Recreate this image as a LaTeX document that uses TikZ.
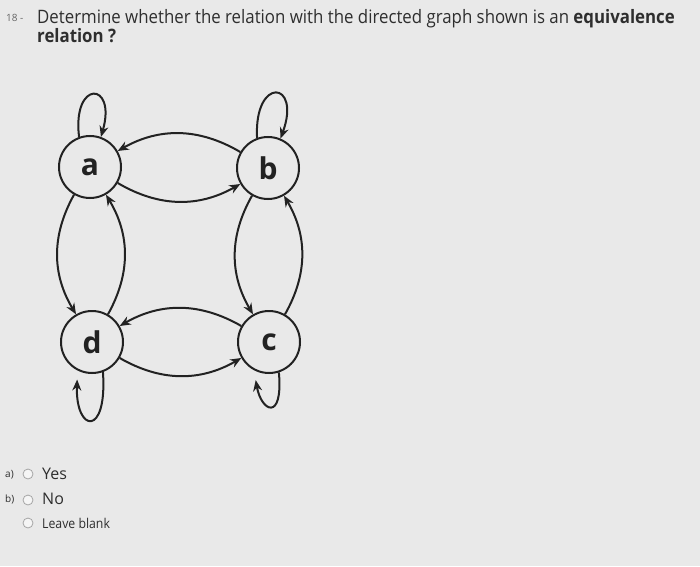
\documentclass[tikz,border=0pt]{standalone}
\usepackage{fontspec}
\setmainfont{Open Sans}
\newfontfamily\ttl[FakeStretch=0.91]{Open Sans}
\usetikzlibrary{arrows.meta}
\definecolor{bg}{HTML}{E9E9E9}
\definecolor{ink}{HTML}{222222}
\definecolor{txt}{HTML}{2E2E2E}
\begin{document}
\begin{tikzpicture}[x=1pt,y=1pt,
  vtx/.style={circle,draw=ink,line width=2pt,minimum size=62pt,inner sep=0pt,
              font=\bfseries\fontsize{30}{30}\selectfont,text=ink},
  edge/.style={draw=ink,line width=2pt,-{Stealth[length=11pt,width=9pt]}},
  radio/.style={draw=gray!70,line width=0.8pt,fill=white!92!gray},
  lbl/.style={anchor=base west,inner sep=0pt,text=txt}]
\fill[bg] (0,0) rectangle (700,566);
\useasboundingbox (0,0) rectangle (700,566);
% title
\node[lbl,text=gray!80!black,font=\fontsize{10}{10}\selectfont] (num) at (6,544) {18 -};
\node[lbl,font=\ttl\fontsize{18.5}{18.5}\selectfont] (t1) at (37,542) {Determine whether the relation with the directed graph shown is an \textbf{equivalence}};
\node[lbl,font=\ttl\fontsize{18.5}{18.5}\selectfont] (t2) at (37,523) {\textbf{relation ?}};
% vertices
\node[vtx] (a) at (90,399) {a};
\node[vtx] (b) at (268,398) {b};
\node[vtx] (d) at (92,224) {d};
\node[vtx] (c) at (269,224) {c};
% edges
\draw[edge] (b.150) to[bend right=30] (a.30);
\draw[edge] (a.-30) to[bend right=30] (b.-150);
\draw[edge] (a.-120) to[bend right=30] (d.120);
\draw[edge] (d.60) to[bend right=30] (a.-60);
\draw[edge] (b.-120) to[bend right=30] (c.120);
\draw[edge] (c.60) to[bend right=30] (b.-60);
\draw[edge] (c.150) to[bend right=30] (d.30);
\draw[edge] (d.-30) to[bend right=30] (c.-150);
% loops
\draw[edge] (a.110) .. controls +(97:58) and +(74:58) .. (a.70);
\draw[edge] (b.110) .. controls +(93:62) and +(70:62) .. (b.67);
\draw[edge,shorten >=9pt] (d.-70) .. controls +(-86:66) and +(-92:62) .. (d.-117);
\draw[edge,shorten >=10pt] (c.-72) .. controls +(-85:50) and +(-80:42) .. (c.-118);
% options
\node[lbl,font=\fontsize{10}{10}\selectfont] (oa) at (5,89) {a)};
\node[radio,circle,minimum size=10pt,inner sep=0pt] (ra) at (28,92) {};
\node[lbl,font=\fontsize{16}{16}\selectfont] (yes) at (42,87) {Yes};
\node[lbl,font=\fontsize{10}{10}\selectfont] (ob) at (5,64) {b)};
\node[radio,circle,minimum size=10pt,inner sep=0pt] (rb) at (28,66) {};
\node[lbl,font=\fontsize{16}{16}\selectfont] (no) at (42,62) {No};
\node[radio,circle,minimum size=10pt,inner sep=0pt] (rc) at (28,43) {};
\node[lbl,font=\ttl\fontsize{13.5}{13.5}\selectfont] (lb) at (42,38) {Leave blank};
\end{tikzpicture}
\end{document}
